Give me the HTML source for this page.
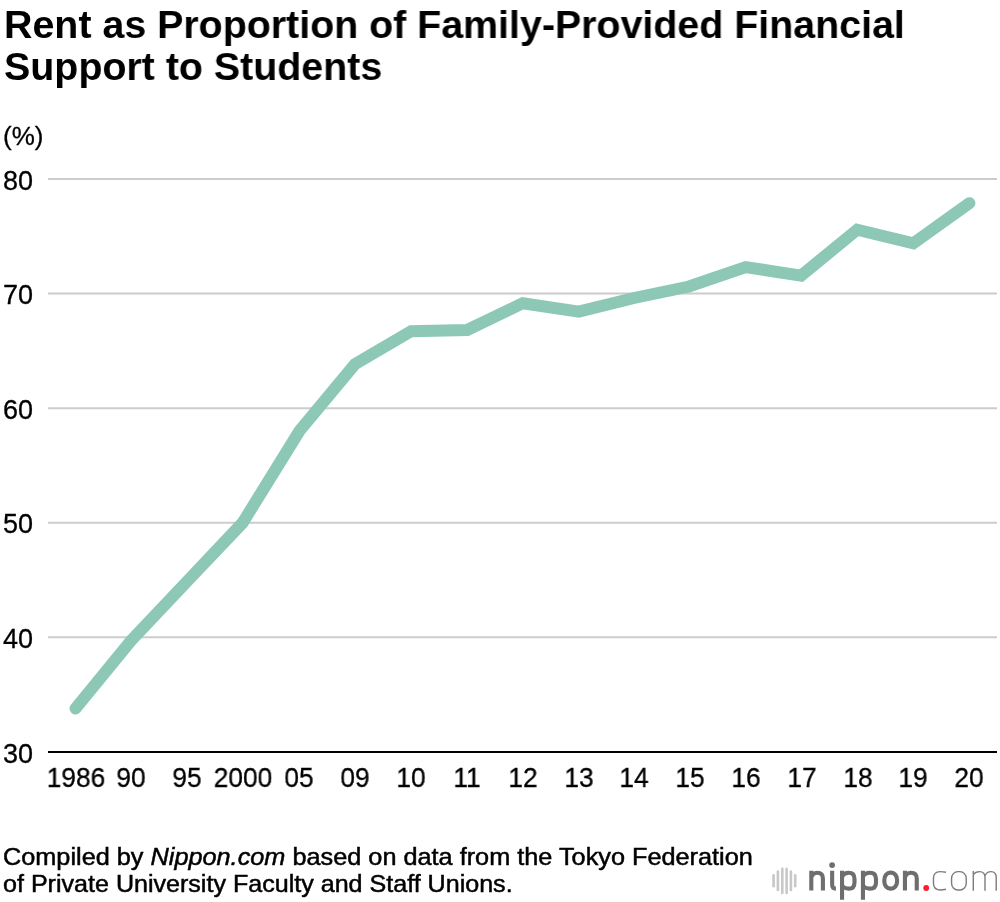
<!DOCTYPE html>
<html><head><meta charset="utf-8">
<style>
html,body{margin:0;padding:0;background:#fff;}
body{width:1000px;height:902px;position:relative;overflow:hidden;font-family:"Liberation Sans",sans-serif;color:#000;}
.t{position:absolute;white-space:nowrap;will-change:transform;}
#title{left:3.8px;top:4.35px;font-size:39.4px;font-weight:bold;line-height:41.8px;transform:scaleX(0.999);transform-origin:0 0;}
.yl{left:3px;font-size:27px;line-height:30px;-webkit-text-stroke:0.3px #000;margin-top:0.7px;}
.xl{top:762.8px;-webkit-text-stroke:0.3px #000;font-size:27px;line-height:30px;transform:translateX(-50%) scaleX(0.975);}
#foot{left:3px;top:842.5px;-webkit-text-stroke:0.5px #000;font-size:24.2px;line-height:27.4px;transform:scaleX(1.045);transform-origin:0 0;}
svg{position:absolute;left:0;top:0;}
#f2{display:inline-block;transform:scaleX(0.992);transform-origin:0 0;}
</style></head><body>
<div class="t" id="title">Rent as Proportion of Family-Provided Financial<br>Support to Students</div>
<div class="t yl" style="top:120.8px;font-size:26px">(%)</div>
<div class="t yl" style="top:165px">80</div>
<div class="t yl" style="top:279.5px">70</div>
<div class="t yl" style="top:394.6px">60</div>
<div class="t yl" style="top:508.8px">50</div>
<div class="t yl" style="top:623.7px">40</div>
<div class="t yl" style="top:738px">30</div>
<svg width="1000" height="902" viewBox="0 0 1000 902">
<g stroke="#cccccc" stroke-width="2">
<line x1="48" x2="997" y1="179" y2="179"/>
<line x1="48" x2="997" y1="293.5" y2="293.5"/>
<line x1="48" x2="997" y1="408.2" y2="408.2"/>
<line x1="48" x2="997" y1="522.8" y2="522.8"/>
<line x1="48" x2="997" y1="637.2" y2="637.2"/>
</g>
<line x1="48" x2="997" y1="752" y2="752" stroke="#000" stroke-width="2"/>
<polyline fill="none" stroke="#8cc8b5" stroke-width="12" stroke-linecap="round" stroke-linejoin="miter"
points="75.5,708.5 131,640.7 187,581.5 242.7,522.7 299.4,431 355,364.2 411.2,331.2 467.2,330 522.8,303.2 578.8,311.6 634,298 689,286.5 745.7,267.1 801.1,275.6 857.2,229.7 913.3,243.3 969.4,203.2"/>
<g id="logo" fill="none">
<g stroke="#c8c8c8" stroke-width="2.6" stroke-linecap="round">
<line x1="773.6" x2="773.6" y1="875.3" y2="886.3"/>
<line x1="777.9" x2="777.9" y1="871.6" y2="890"/>
<line x1="782.3" x2="782.3" y1="868.8" y2="893"/>
<line x1="786.6" x2="786.6" y1="868.8" y2="893"/>
<line x1="790.9" x2="790.9" y1="871.6" y2="890"/>
<line x1="795.2" x2="795.2" y1="875.3" y2="886.3"/>
</g>
<g stroke="#6e6e6e" stroke-width="4.1">
<path d="M811.3,870.7 V890.5 M811.3,877.5 Q812.8,872.7 817.3,872.7 Q822.9,872.7 822.9,878.5 V890.5"/>
<path d="M832.15,870.7 V885 Q832.15,888.6 835.9,888.6"/>
<path d="M842.05,870.7 V899.7 M842.05,876.5 Q844.05,872.7 848.775,872.7 Q854.5,872.7 854.5,879 V882.4 Q854.5,888.65 848.775,888.65 Q844.05,888.65 842.05,885.5"/>
<path d="M862.95,870.7 V899.7 M862.95,876.5 Q864.95,872.7 869.975,872.7 Q876.0,872.7 876.0,879 V882.4 Q876.0,888.65 869.975,888.65 Q864.95,888.65 862.95,885.5"/>
<rect x="884.35" y="872.65" width="12.7" height="16" rx="6" ry="7"/>
<path d="M904.95,870.7 V890.5 M904.95,877.5 Q906.45,872.7 910.95,872.7 Q916.75,872.7 916.75,878.5 V890.5"/>
</g>
<circle cx="832.1" cy="865.1" r="2.9" fill="#6e6e6e"/>
<circle cx="926.2" cy="888" r="2.9" fill="#fa1e2c"/>
<g stroke="#7c7c7c" stroke-width="1.4">
<path d="M946,872.3 Q943,871.65 940,871.65 Q933.45,871.65 933.45,878.5 V883.1 Q933.45,889.95 940,889.95 Q943,889.95 946,889.3"/>
<rect x="951.55" y="871.65" width="14.7" height="18.3" rx="6.3" ry="6.8"/>
<path d="M973.3,870.9 V890.7 M973.3,874.5 Q975.5,871.65 979.5,871.65 Q985,871.65 985,877.5 V890.7 M985,875.5 Q987,871.65 991,871.65 Q996.2,871.65 996.2,877.5 V890.7"/>
</g>
</g>
</svg>
<div class="t xl" style="left:75.5px">1986</div>
<div class="t xl" style="left:131px">90</div>
<div class="t xl" style="left:187px">95</div>
<div class="t xl" style="left:243px">2000</div>
<div class="t xl" style="left:299px">05</div>
<div class="t xl" style="left:355px">09</div>
<div class="t xl" style="left:411px">10</div>
<div class="t xl" style="left:467px">11</div>
<div class="t xl" style="left:523px">12</div>
<div class="t xl" style="left:579px">13</div>
<div class="t xl" style="left:634px">14</div>
<div class="t xl" style="left:690px">15</div>
<div class="t xl" style="left:746px">16</div>
<div class="t xl" style="left:802px">17</div>
<div class="t xl" style="left:858px">18</div>
<div class="t xl" style="left:913px">19</div>
<div class="t xl" style="left:969px">20</div>
<div class="t" id="foot">Compiled by <i>Nippon.com</i> based on data from the Tokyo Federation<br><span id="f2">of Private University Faculty and Staff Unions.</span></div>
</body></html>
